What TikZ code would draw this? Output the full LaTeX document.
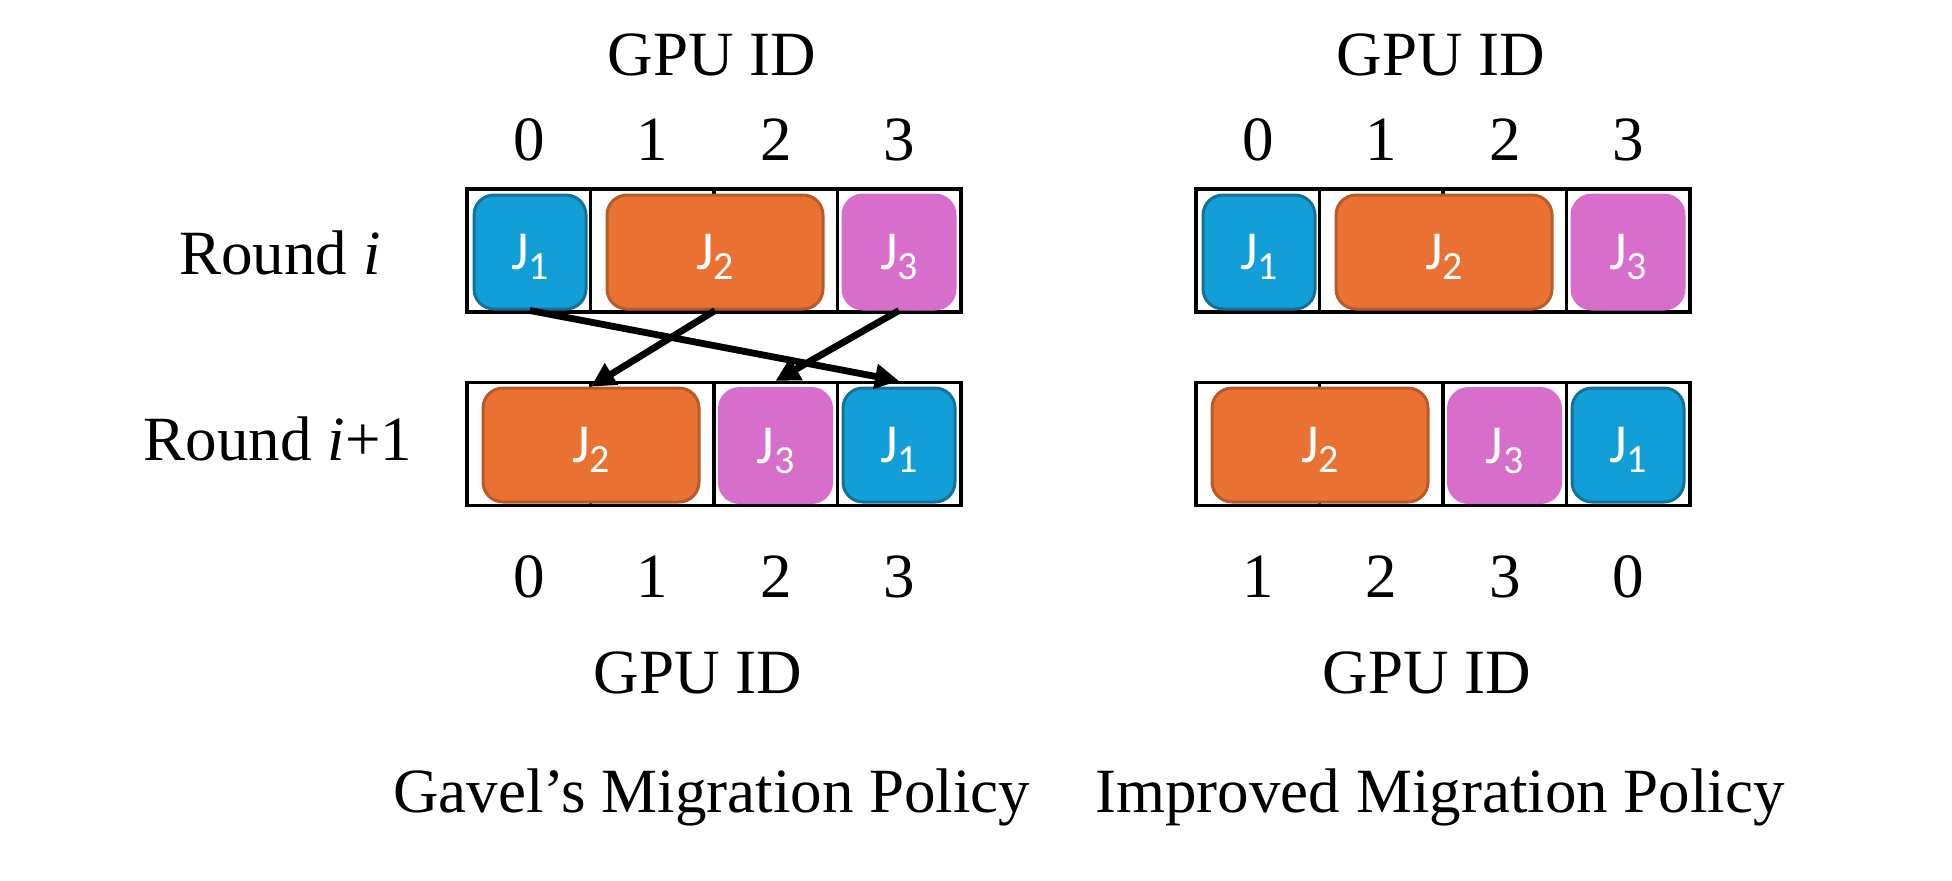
\documentclass[tikz,border=0pt]{standalone}
\usepackage{fontspec}
\setmainfont{Liberation Serif}
\newfontfamily\jfont{Carlito}
\usetikzlibrary{arrows.meta}
\definecolor{jblue}{HTML}{129ED6}
\definecolor{jblueb}{HTML}{15709A}
\definecolor{jorange}{HTML}{E97132}
\definecolor{jorangeb}{HTML}{B85A28}
\definecolor{jpink}{HTML}{D86ECC}
\newcommand\jlab[1]{J\raisebox{-5pt}{\fontsize{20}{22}\selectfont #1}}
\begin{document}
\begin{tikzpicture}[x=0.5pt,y=-0.5pt,
  lbl/.style={font=\fontsize{31.5}{36}\selectfont, anchor=base, inner sep=0pt},
  cell/.style={draw=black, line width=1.6pt, minimum width=61.75pt, minimum height=61.5pt, inner sep=0pt},
  job/.style={rounded corners=10pt, line width=1.5pt, inner sep=0pt, text=white,
    font=\jfont\fontsize{27.5}{30}\selectfont, text height=17.5pt, text depth=0pt, minimum height=57pt},
  smalljob/.style={job, minimum width=56pt},
  bigjob/.style={job, minimum width=108pt},
  bluejob/.style={smalljob, fill=jblue, draw=jblueb},
  orangejob/.style={bigjob, fill=jorange, draw=jorangeb},
  pinkjob/.style={smalljob, fill=jpink, draw=jpink},
  mig/.style={line width=3.4pt, -{Triangle[length=12pt,width=12pt]}}
]
\useasboundingbox (0,0) rectangle (1952,880);

% ---------- left panel ----------
\node[lbl] (gidLt) at (712,75) {GPU ID};
\node[lbl] (dLt0) at (528.75,160) {0};
\node[lbl] (dLt1) at (652.25,160) {1};
\node[lbl] (dLt2) at (775.75,160) {2};
\node[lbl] (dLt3) at (899.25,160) {3};

\node[lbl] (ri) at (280,274) {Round \textit{i}};
\node[lbl] (ri1) at (278,460) {Round \textit{i}+1};

\node[cell] (Lt0) at (528.75,250.5) {};
\node[cell] (Lt1) at (652.25,250.5) {};
\node[cell] (Lt2) at (775.75,250.5) {};
\node[cell] (Lt3) at (899.25,250.5) {};
\node[cell] (Lb0) at (528.75,444) {};
\node[cell] (Lb1) at (652.25,444) {};
\node[cell] (Lb2) at (775.75,444) {};
\node[cell] (Lb3) at (899.25,444) {};

\node[bluejob] (LJ1t) at (530,252) {\jlab{1}};
\node[orangejob] (LJ2t) at (715,252) {\jlab{2}};
\node[pinkjob] (LJ3t) at (899,252) {\jlab{3}};
\node[orangejob] (LJ2b) at (591,445) {\jlab{2}};
\node[pinkjob] (LJ3b) at (775.5,445.5) {\jlab{3}};
\node[bluejob] (LJ1b) at (899,445) {\jlab{1}};

\draw[mig] (LJ1t.south) -- (LJ1b.north |- Lb3.north);
\draw[mig] (LJ2t.south) -- (LJ2b.north);
\draw[mig] (LJ3t.south) -- (LJ3b.north |- Lb2.north);

\node[lbl] (dLb0) at (528.75,597) {0};
\node[lbl] (dLb1) at (652.25,597) {1};
\node[lbl] (dLb2) at (775.75,597) {2};
\node[lbl] (dLb3) at (899.25,597) {3};
\node[lbl] (gidLb) at (698,693) {GPU ID};

\node[lbl, anchor=base west] (capL) at (393,812) {Gavel’s Migration Policy};

% ---------- right panel ----------
\begin{scope}[xshift=364.5pt]
\node[lbl] (gidRt) at (712,75) {GPU ID};
\node[lbl] (dRt0) at (528.75,160) {0};
\node[lbl] (dRt1) at (652.25,160) {1};
\node[lbl] (dRt2) at (775.75,160) {2};
\node[lbl] (dRt3) at (899.25,160) {3};

\node[cell] (Rt0) at (528.75,250.5) {};
\node[cell] (Rt1) at (652.25,250.5) {};
\node[cell] (Rt2) at (775.75,250.5) {};
\node[cell] (Rt3) at (899.25,250.5) {};
\node[cell] (Rb0) at (528.75,444) {};
\node[cell] (Rb1) at (652.25,444) {};
\node[cell] (Rb2) at (775.75,444) {};
\node[cell] (Rb3) at (899.25,444) {};

\node[bluejob] (RJ1t) at (530,252) {\jlab{1}};
\node[orangejob] (RJ2t) at (715,252) {\jlab{2}};
\node[pinkjob] (RJ3t) at (899,252) {\jlab{3}};
\node[orangejob] (RJ2b) at (591,445) {\jlab{2}};
\node[pinkjob] (RJ3b) at (775.5,445.5) {\jlab{3}};
\node[bluejob] (RJ1b) at (899,445) {\jlab{1}};

\node[lbl] (dRb0) at (528.75,597) {1};
\node[lbl] (dRb1) at (652.25,597) {2};
\node[lbl] (dRb2) at (775.75,597) {3};
\node[lbl] (dRb3) at (899.25,597) {0};
\node[lbl] (gidRb) at (698,693) {GPU ID};
\end{scope}

\node[lbl, anchor=base west] (capR) at (1095,812) {Improved Migration Policy};
\end{tikzpicture}
\end{document}
